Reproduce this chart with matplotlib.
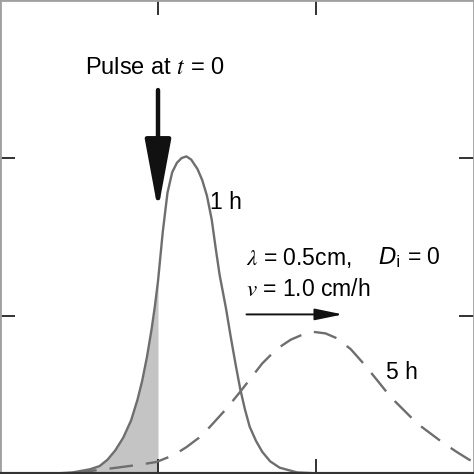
import numpy as np
import matplotlib
matplotlib.use("Agg")
import matplotlib.pyplot as plt

plt.rcParams['font.family'] = ['Liberation Sans', 'DejaVu Sans']

# concentration profile 1 h after the pulse
x_1h = [0.0, 0.30, 0.46, 0.57, 0.63, 0.68, 0.73, 0.78, 0.83, 0.87, 0.90, 0.93, 0.96,
        0.98, 1.00, 1.03, 1.06, 1.09, 1.12, 1.15, 1.18, 1.21, 1.25, 1.28, 1.31, 1.34,
        1.365, 1.39, 1.43, 1.46, 1.49, 1.52, 1.55, 1.58, 1.62, 1.66, 1.71, 1.77, 1.88,
        2.09, 3.0]
c_1h = [0.0, 0.0, 0.01, 0.03, 0.05, 0.09, 0.15, 0.23, 0.34, 0.47, 0.59, 0.74, 0.92,
        1.06, 1.22, 1.53, 1.78, 1.91, 1.97, 2.00, 2.01, 1.99, 1.93, 1.86, 1.76, 1.61,
        1.43, 1.26, 1.05, 0.87, 0.70, 0.54, 0.41, 0.30, 0.21, 0.14, 0.08, 0.04, 0.01,
        0.0, 0.0]

# concentration profile 5 h after the pulse
x_5h = [0.0, 0.30, 0.50, 0.74, 0.89, 0.99, 1.10, 1.18, 1.26, 1.33, 1.43, 1.52, 1.59,
        1.66, 1.75, 1.84, 1.91, 1.98, 2.06, 2.13, 2.22, 2.30, 2.39, 2.47, 2.56, 2.64,
        2.72, 2.80, 2.89, 2.97, 3.0]
c_5h = [0.0, 0.0, 0.01, 0.04, 0.06, 0.076, 0.12, 0.17, 0.23, 0.30, 0.41, 0.52, 0.61,
        0.70, 0.79, 0.85, 0.88, 0.90, 0.89, 0.86, 0.79, 0.70, 0.59, 0.49, 0.40, 0.32,
        0.26, 0.20, 0.14, 0.09, 0.08]

x_1h = np.array(x_1h)
c_1h = np.array(c_1h)

fig = plt.figure(figsize=(4.74, 4.74), dpi=100)
ax = fig.add_axes([0, 0, 1, 1])

# shaded part of the 1 h curve left of x = 1
m = x_1h <= 1.0
ax.fill_between(x_1h[m], 0, c_1h[m], color='#c4c4c4', lw=0)

ax.plot(x_1h, c_1h, color='#6e6e6e', lw=1.7)
ax.plot(x_5h, c_5h, color='#6e6e6e', lw=1.7, dashes=(10, 5.5))

# pulse arrow
ax.annotate('', xy=(1.0, 1.67), xytext=(1.0, 2.43),
            arrowprops=dict(arrowstyle='-|>,head_length=4.3,head_width=0.8',
                            color='#111111', lw=3.2, shrinkA=0, shrinkB=0))
ax.text(0.98, 2.57, 'Pulse at $t$ = 0', ha='center', va='center', fontsize=17,
        math_fontfamily='stix')

# velocity arrow
ax.annotate('', xy=(2.17, 1.01), xytext=(1.56, 1.01),
            arrowprops=dict(arrowstyle='-|>,head_length=1.7,head_width=0.35',
                            color='#111111', lw=1.4, shrinkA=0, shrinkB=0))

ax.text(1.56, 1.37, r'$\lambda$ = 0.5cm,', ha='left', va='center', fontsize=16.5,
        math_fontfamily='stix')
ax.text(2.39, 1.37, r'$D_{\mathrm{i}}$ = 0', ha='left', va='center', fontsize=16.5,
        math_fontfamily='dejavusans')
ax.text(1.56, 1.17, r'$\mathit{v}$ = 1.0 cm/h', ha='left', va='center', fontsize=16.5,
        math_fontfamily='stix')

ax.text(1.33, 1.72, '1 h', ha='left', va='center', fontsize=16.5)
ax.text(2.44, 0.64, '5 h', ha='left', va='center', fontsize=16.5)

ax.set_xlim(0, 3)
ax.set_ylim(0, 3)
ax.set_xticks([1, 2])
ax.set_yticks([1, 2])
ax.set_xticklabels([])
ax.set_yticklabels([])
ax.tick_params(direction='in', length=10.5, width=1.3, color='#222222',
               top=True, right=True)
for side in ['left', 'top', 'right']:
    ax.spines[side].set_color('#a0a0a0')
    ax.spines[side].set_linewidth(2)
ax.spines['bottom'].set_color('#333333')
ax.spines['bottom'].set_linewidth(3)

fig.savefig('out.png', dpi=100)
